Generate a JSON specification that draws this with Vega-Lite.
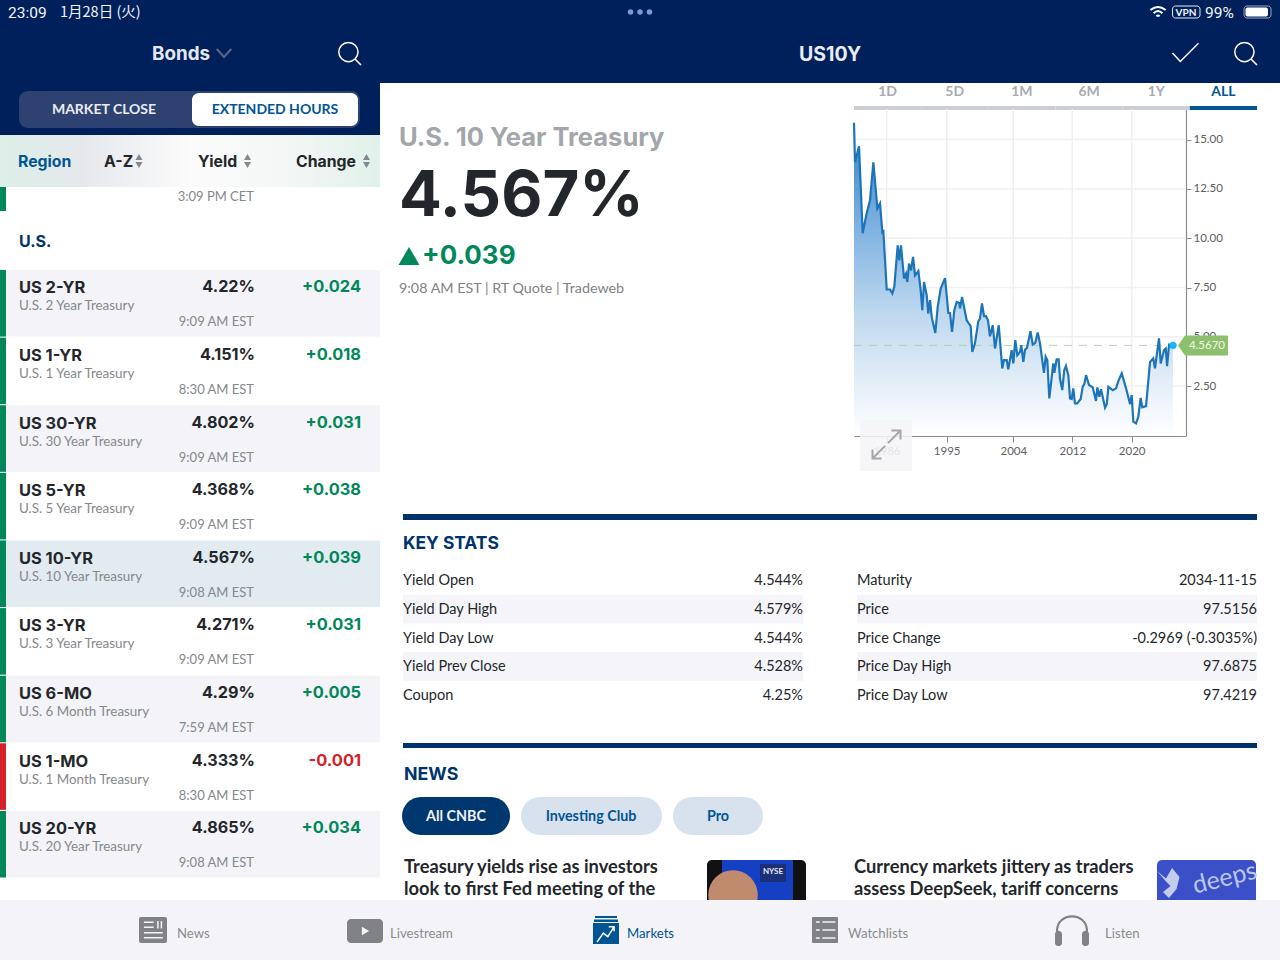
{"$schema":"https://vega.github.io/schema/vega-lite/v6.json","width":1280,"height":960,"autosize":"none","padding":0,"background":"#ffffff",
"config":{"view":{"stroke":null},"text":{"font":"Lato","baseline":"middle","align":"left"},"axis":{"labelFont":"Lato"}},
"data":{"values":[{"page":"US10Y"}]},
"resolve":{"scale":{"x":"independent","y":"independent"},"axis":{"x":"independent","y":"independent"}},
"layer":[
{"mark":{"type":"rect","x":0,"x2":1280,"y":0,"y2":83,"fill":"#00205b"}},
{"mark":{"type":"rect","x":0,"x2":380,"y":83,"y2":135,"fill":"#00205b"}},
{"mark":{"type":"rect","x":19,"x2":360,"y":91,"y2":128,"fill":"#2d4270","cornerRadius":9}},
{"mark":{"type":"rect","x":192,"x2":358,"y":93,"y2":126,"fill":"#ffffff","cornerRadius":7}},
{"mark":{"type":"rect","x":0,"x2":380,"y":135,"y2":187,"fill":{"gradient":"linear","x1":0,"y1":0,"x2":1,"y2":0,"stops":[{"offset":0,"color":"#dcefe8"},{"offset":0.22,"color":"#e6e8ec"},{"offset":0.5,"color":"#fbfbfb"},{"offset":0.75,"color":"#f4f7f6"},{"offset":1,"color":"#e0f1ea"}]}}},
{"mark":{"type":"rect","x":0,"x2":6,"y":187,"y2":211,"fill":"#00875a"}},
{"mark":{"type":"rule","x":380,"y":83,"y2":900,"stroke":"#e8e8ea","strokeWidth":1},"encoding":{}},
{"mark":{"type":"text","x":152,"y":53.5,"text":"Bonds","font":"Inter","fontSize":18.8,"fontWeight":"bold","color":"#e4e7ef"}},
{"mark":{"type":"point","x":224,"y":53,"size":256,"shape":"M-0.9,-0.5 L0,0.5 L0.9,-0.5","filled":false,"stroke":"#56688f","strokeWidth":2,"opacity":1}},
{"mark":{"type":"point","x":349,"y":53,"size":576,"shape":"M0.53,0.53 L1,1 M0.75,-0.08 A0.8,0.8 0 1 1 -0.85,-0.08 A0.8,0.8 0 1 1 0.75,-0.08","filled":false,"stroke":"#ffffff","strokeWidth":1.5,"opacity":1}},
{"mark":{"type":"point","x":1245,"y":53,"size":576,"shape":"M0.53,0.53 L1,1 M0.75,-0.08 A0.8,0.8 0 1 1 -0.85,-0.08 A0.8,0.8 0 1 1 0.75,-0.08","filled":false,"stroke":"#ffffff","strokeWidth":1.5,"opacity":1}},
{"mark":{"type":"point","x":1185.5,"y":53,"size":676,"shape":"M-1,0 L-0.4,0.65 L1,-0.75","filled":false,"stroke":"#ffffff","strokeWidth":1.5,"opacity":1}},
{"mark":{"type":"text","x":104,"y":110,"text":"MARKET CLOSE","align":"center","fontSize":14,"fontWeight":"bold","color":"#e8ebf2"}},
{"mark":{"type":"text","x":275,"y":110,"text":"EXTENDED HOURS","align":"center","fontSize":14,"fontWeight":"bold","color":"#005594"}},
{"mark":{"type":"text","x":18,"y":161.5,"text":"Region","font":"Inter","fontSize":15.8,"fontWeight":"bold","color":"#005594"}},
{"mark":{"type":"rule","x":86,"y":153,"y2":170,"stroke":"#d8dadd"},"encoding":{}},
{"mark":{"type":"text","x":104,"y":161.5,"text":"A-Z","font":"Inter","fontSize":15.8,"fontWeight":"bold","color":"#23272b"}},
{"mark":{"type":"text","x":198,"y":161.5,"text":"Yield","font":"Inter","fontSize":15.8,"fontWeight":"bold","color":"#23272b"}},
{"mark":{"type":"text","x":296,"y":161.5,"text":"Change","font":"Inter","fontSize":15.8,"fontWeight":"bold","color":"#23272b"}},
{"mark":{"type":"point","x":139,"y":157,"shape":"triangle-up","size":50,"filled":true,"fill":"#85888c","opacity":1}},
{"mark":{"type":"point","x":139,"y":165,"shape":"triangle-down","size":50,"filled":true,"fill":"#85888c","opacity":1}},
{"mark":{"type":"point","x":247.5,"y":157,"shape":"triangle-up","size":50,"filled":true,"fill":"#85888c","opacity":1}},
{"mark":{"type":"point","x":247.5,"y":165,"shape":"triangle-down","size":50,"filled":true,"fill":"#85888c","opacity":1}},
{"mark":{"type":"point","x":366.5,"y":157,"shape":"triangle-up","size":50,"filled":true,"fill":"#85888c","opacity":1}},
{"mark":{"type":"point","x":366.5,"y":165,"shape":"triangle-down","size":50,"filled":true,"fill":"#85888c","opacity":1}},
{"mark":{"type":"text","x":254,"y":197,"text":"3:09 PM CET","align":"right","fontSize":13,"color":"#85888c"}},
{"mark":{"type":"text","x":19,"y":241.5,"text":"U.S.","font":"Inter","fontSize":16,"fontWeight":"bold","color":"#00336b"}},
{"data":{"values":[
{"symbol":"US 2-YR","name":"U.S. 2 Year Treasury","yield":"4.22%","change":"+0.024","time":"9:09 AM EST","direction":"up"},
{"symbol":"US 1-YR","name":"U.S. 1 Year Treasury","yield":"4.151%","change":"+0.018","time":"8:30 AM EST","direction":"up"},
{"symbol":"US 30-YR","name":"U.S. 30 Year Treasury","yield":"4.802%","change":"+0.031","time":"9:09 AM EST","direction":"up"},
{"symbol":"US 5-YR","name":"U.S. 5 Year Treasury","yield":"4.368%","change":"+0.038","time":"9:09 AM EST","direction":"up"},
{"symbol":"US 10-YR","name":"U.S. 10 Year Treasury","yield":"4.567%","change":"+0.039","time":"9:08 AM EST","direction":"up"},
{"symbol":"US 3-YR","name":"U.S. 3 Year Treasury","yield":"4.271%","change":"+0.031","time":"9:09 AM EST","direction":"up"},
{"symbol":"US 6-MO","name":"U.S. 6 Month Treasury","yield":"4.29%","change":"+0.005","time":"7:59 AM EST","direction":"up"},
{"symbol":"US 1-MO","name":"U.S. 1 Month Treasury","yield":"4.333%","change":"-0.001","time":"8:30 AM EST","direction":"down"},
{"symbol":"US 20-YR","name":"U.S. 20 Year Treasury","yield":"4.865%","change":"+0.034","time":"9:08 AM EST","direction":"up"}]},
"encoding":{"y":{"field":"symbol","type":"nominal","axis":null,"sort":null,"scale":{"type":"band","domain":["US 2-YR","US 1-YR","US 30-YR","US 5-YR","US 10-YR","US 3-YR","US 6-MO","US 1-MO","US 20-YR"],"range":[270,877.5],"paddingInner":0.015,"paddingOuter":0}}},
"layer":[
{"mark":{"type":"rect","x":0,"x2":380},"encoding":{"fill":{"value":"#ffffff","condition":[{"test":"datum.symbol==='US 10-YR'","value":"#e1ebf0"},{"test":"datum.symbol==='US 2-YR'||datum.symbol==='US 30-YR'||datum.symbol==='US 6-MO'||datum.symbol==='US 20-YR'","value":"#f3f3f8"}]}}},
{"mark":{"type":"rect","x":0,"x2":6},"encoding":{"fill":{"value":"#00875a","condition":{"test":"datum.direction==='down'","value":"#d3222a"}}}},
{"mark":{"type":"text","x":19,"dy":-15,"font":"Inter","fontSize":16.4,"fontWeight":"bold","color":"#23272b"},"encoding":{"text":{"field":"symbol"}}},
{"mark":{"type":"text","x":19,"dy":3,"fontSize":13.4,"color":"#85888c"},"encoding":{"text":{"field":"name"}}},
{"mark":{"type":"text","x":255,"dy":-16,"align":"right","font":"Inter","fontSize":16.2,"fontWeight":"bold","color":"#23272b"},"encoding":{"text":{"field":"yield"}}},
{"mark":{"type":"text","x":361,"dy":-16,"align":"right","font":"Inter","fontSize":16.4,"fontWeight":"bold"},"encoding":{"text":{"field":"change"},"color":{"value":"#00875a","condition":{"test":"datum.direction==='down'","value":"#d3222a"}}}},
{"mark":{"type":"text","x":254,"dy":19,"align":"right","fontSize":13,"color":"#85888c"},"encoding":{"text":{"field":"time"}}}
]},
{"mark":{"type":"text","x":799,"y":54.5,"text":"US10Y","font":"Inter","fontSize":19.5,"fontWeight":"bold","color":"#e9ecf3"}},
{"mark":{"type":"text","x":399,"y":138,"text":"U.S. 10 Year Treasury","font":"Inter","fontSize":25.5,"fontWeight":"bold","color":"#a3a6ab"}},
{"mark":{"type":"text","x":399,"y":197,"text":"4.567%","font":"Inter","fontSize":63.5,"fontWeight":"bold","color":"#23272b"}},
{"mark":{"type":"point","x":409,"y":256,"shape":"triangle-up","size":440,"filled":true,"fill":"#00875a","opacity":1}},
{"mark":{"type":"text","x":422,"y":256,"text":"+0.039","font":"Inter","fontSize":26,"fontWeight":"bold","color":"#00875a"}},
{"mark":{"type":"text","x":399,"y":288.5,"text":"9:08 AM EST | RT Quote | Tradeweb","fontSize":14.3,"color":"#7f8286"}},
{"data":{"values":[{"range":"1D"},{"range":"5D"},{"range":"1M"},{"range":"6M"},{"range":"1Y"},{"range":"ALL"}]},
"encoding":{"x":{"field":"range","type":"nominal","axis":null,"sort":null,"scale":{"type":"band","domain":["1D","5D","1M","6M","1Y","ALL"],"range":[854,1257],"paddingInner":0,"paddingOuter":0}}},
"layer":[
{"mark":{"type":"text","y":91.5,"align":"center","fontSize":14,"fontWeight":"bold"},"encoding":{"text":{"field":"range"},"color":{"value":"#a8abb0","condition":{"test":"datum.range==='ALL'","value":"#005594"}}}},
{"mark":{"type":"rect","y":106,"y2":110},"encoding":{"fill":{"value":"#cbced3","condition":{"test":"datum.range==='ALL'","value":"#005594"}}}}
]},
{"data":{"values":[
{"year":1981.1,"yield":15.85},{"year":1981.25,"yield":13.85},{"year":1981.85,"yield":14.66},{"year":1982.4,"yield":10.25},{"year":1983.0,"yield":11.26},{"year":1983.5,"yield":11.92},{"year":1984.0,"yield":13.85},{"year":1984.6,"yield":11.51},{"year":1985.0,"yield":11.76},{"year":1985.35,"yield":10.31},{"year":1985.5,"yield":10.35},{"year":1986.0,"yield":7.4},{"year":1986.5,"yield":7.4},{"year":1986.84,"yield":7.2},{"year":1987.14,"yield":7.53},{"year":1987.65,"yield":9.64},{"year":1987.89,"yield":8.88},{"year":1988.14,"yield":9.64},{"year":1988.6,"yield":7.96},{"year":1988.9,"yield":8.21},{"year":1989.09,"yield":7.78},{"year":1989.35,"yield":8.71},{"year":1989.65,"yield":8.37},{"year":1989.95,"yield":9.05},{"year":1990.25,"yield":8.12},{"year":1990.75,"yield":8.34},{"year":1991.1,"yield":7.36},{"year":1991.34,"yield":6.35},{"year":1991.6,"yield":7.78},{"year":1992.0,"yield":7.11},{"year":1992.24,"yield":6.18},{"year":1992.5,"yield":6.86},{"year":1992.75,"yield":6.01},{"year":1993.29,"yield":5.2},{"year":1993.65,"yield":6.52},{"year":1994.1,"yield":7.45},{"year":1994.75,"yield":7.98},{"year":1995.22,"yield":6.21},{"year":1995.45,"yield":6.21},{"year":1995.72,"yield":5.25},{"year":1996.03,"yield":6.35},{"year":1996.35,"yield":6.77},{"year":1996.7,"yield":6.72},{"year":1996.8,"yield":6.44},{"year":1997.07,"yield":7.02},{"year":1997.7,"yield":5.84},{"year":1998.24,"yield":5.54},{"year":1998.46,"yield":4.24},{"year":1998.82,"yield":4.67},{"year":1999.27,"yield":5.79},{"year":1999.5,"yield":5.93},{"year":1999.77,"yield":6.69},{"year":2000.04,"yield":6.05},{"year":2000.31,"yield":6.05},{"year":2000.58,"yield":5.84},{"year":2000.85,"yield":5.03},{"year":2001.22,"yield":5.59},{"year":2001.53,"yield":4.41},{"year":2002.03,"yield":5.59},{"year":2002.51,"yield":3.4},{"year":2002.74,"yield":3.82},{"year":2003.11,"yield":3.82},{"year":2003.32,"yield":3.35},{"year":2003.78,"yield":4.33},{"year":2004.0,"yield":3.65},{"year":2004.27,"yield":4.83},{"year":2004.54,"yield":4.07},{"year":2004.91,"yield":4.24},{"year":2005.08,"yield":4.58},{"year":2005.36,"yield":3.73},{"year":2005.58,"yield":4.33},{"year":2005.86,"yield":4.45},{"year":2006.33,"yield":5.29},{"year":2006.63,"yield":4.61},{"year":2006.98,"yield":4.7},{"year":2007.31,"yield":5.22},{"year":2007.62,"yield":4.67},{"year":2008.16,"yield":3.18},{"year":2008.39,"yield":3.99},{"year":2008.61,"yield":3.82},{"year":2008.88,"yield":1.88},{"year":2009.42,"yield":3.65},{"year":2009.56,"yield":3.18},{"year":2009.88,"yield":3.86},{"year":2010.15,"yield":3.86},{"year":2010.33,"yield":2.89},{"year":2010.64,"yield":2.3},{"year":2010.91,"yield":3.31},{"year":2011.14,"yield":3.52},{"year":2011.46,"yield":3.06},{"year":2011.69,"yield":1.88},{"year":2011.92,"yield":1.85},{"year":2012.13,"yield":2.39},{"year":2012.36,"yield":1.63},{"year":2012.67,"yield":1.63},{"year":2013.13,"yield":1.85},{"year":2013.4,"yield":2.47},{"year":2013.62,"yield":2.61},{"year":2013.85,"yield":3.06},{"year":2014.25,"yield":2.56},{"year":2014.75,"yield":2.44},{"year":2015.19,"yield":1.75},{"year":2015.37,"yield":2.44},{"year":2015.64,"yield":1.96},{"year":2015.87,"yield":2.34},{"year":2016.41,"yield":1.41},{"year":2016.64,"yield":1.59},{"year":2016.86,"yield":2.47},{"year":2017.45,"yield":2.3},{"year":2017.9,"yield":2.39},{"year":2018.2,"yield":2.76},{"year":2018.66,"yield":3.15},{"year":2019.24,"yield":2.39},{"year":2019.78,"yield":1.59},{"year":2020.0,"yield":2.05},{"year":2020.2,"yield":0.7},{"year":2020.53,"yield":0.62},{"year":2020.81,"yield":0.95},{"year":2021.1,"yield":1.91},{"year":2021.3,"yield":1.43},{"year":2021.76,"yield":1.49},{"year":2022.25,"yield":3.73},{"year":2022.65,"yield":3.91},{"year":2022.86,"yield":3.4},{"year":2023.35,"yield":4.92},{"year":2023.56,"yield":3.65},{"year":2023.97,"yield":4.33},{"year":2024.18,"yield":4.41},{"year":2024.34,"yield":3.52},{"year":2024.59,"yield":4.61},{"year":2025.07,"yield":4.567}]},
"layer":[
{"data":{"values":[{"tick":2.5},{"tick":5},{"tick":7.5},{"tick":10},{"tick":12.5},{"tick":15}]},"mark":{"type":"rule","stroke":"#f0f0f2","strokeWidth":1.5},"encoding":{"y":{"field":"tick","type":"quantitative"},"x":{"datum":1981.1},"x2":{"datum":2026.7}}},
{"data":{"values":[{"tick":1986},{"tick":1995},{"tick":2004},{"tick":2012},{"tick":2020}]},"mark":{"type":"rule","stroke":"#f0f0f2","strokeWidth":1.5},"encoding":{"x":{"field":"tick","type":"quantitative"},"y":{"datum":0},"y2":{"datum":16.55}}},
{"mark":{"type":"area","interpolate":"linear","fill":{"gradient":"linear","x1":0,"y1":0,"x2":0,"y2":1,"stops":[{"offset":0,"color":"#2f7fc6"},{"offset":0.25,"color":"#6ba6dc"},{"offset":0.6,"color":"#bcd7ef"},{"offset":1,"color":"#ffffff"}]}},"encoding":{"x":{"field":"year","type":"quantitative","title":null,"axis":{"values":[1986,1995,2004,2012,2020],"format":"d","offset":-524,"orient":"bottom","grid":false,"domainColor":"#8c8c8c","tickColor":"#8c8c8c","tickSize":6,"labelFontSize":11.5,"labelColor":"#5e6064","labelPadding":3,"domainWidth":1.2},"scale":{"type":"linear","domain":[1981.1,1986,1995,2004,2012,2020,2025.07,2026.7],"range":[854,886.7,946.7,1013.3,1072.3,1131.7,1173,1186],"nice":false,"zero":false}},"y":{"field":"yield","type":"quantitative","title":null,"stack":null,"axis":{"values":[2.5,5,7.5,10,12.5,15],"format":".2f","orient":"right","offset":-94,"grid":false,"domainColor":"#8c8c8c","tickColor":"#8c8c8c","tickSize":5,"labelFontSize":11.5,"labelColor":"#5e6064","labelPadding":2,"domainWidth":1.2},"scale":{"type":"linear","domain":[0,16.55],"range":[435.5,109],"nice":false,"zero":false}}}},
{"data":{"values":[{"last":4.567}]},"mark":{"type":"rule","stroke":"#a9c9a0","strokeWidth":1,"strokeDash":[8,7],"opacity":0.8},"encoding":{"y":{"field":"last","type":"quantitative"},"x":{"datum":1981.1},"x2":{"datum":2026.7}}},
{"mark":{"type":"line","interpolate":"linear","stroke":"#1d75b9","strokeWidth":2.2},"encoding":{"x":{"field":"year","type":"quantitative"},"y":{"field":"yield","type":"quantitative"}}},
{"data":{"values":[{"year":2025.07,"yield":4.567}]},"mark":{"type":"point","filled":true,"fill":"#19b5fe","size":50,"opacity":1},"encoding":{"x":{"field":"year","type":"quantitative"},"y":{"field":"yield","type":"quantitative"}}},
{"data":{"values":[{"yield":4.567}]},"mark":{"type":"point","x":1203,"filled":true,"fill":"#8cc06c","size":2500,"shape":"M-1,0 L-0.72,-0.4 L0.97,-0.4 L1,-0.37 L1,0.37 L0.97,0.4 L-0.72,0.4 Z","opacity":1},"encoding":{"y":{"field":"yield","type":"quantitative"}}},
{"data":{"values":[{"yield":4.567,"label":"4.5670"}]},"mark":{"type":"text","x":1207,"dy":1,"align":"center","fontSize":11.5,"color":"#f2f7ee"},"encoding":{"y":{"field":"yield","type":"quantitative"},"text":{"field":"label"}}}
]},
{"mark":{"type":"rect","x":860,"x2":912,"y":420,"y2":471,"fill":"#f5f5f7","opacity":0.88}},
{"mark":{"type":"point","x":886.5,"y":444.5,"size":784,"shape":"M0.1,-0.1 L1,-1 M0.35,-1 L1,-1 L1,-0.35 M-0.1,0.1 L-1,1 M-0.35,1 L-1,1 L-1,0.35","filled":false,"stroke":"#a6a6a8","strokeWidth":2,"opacity":1}},
{"mark":{"type":"rect","x":403,"x2":1257,"y":514,"y2":520,"fill":"#00336b"}},
{"mark":{"type":"text","x":403,"y":543.5,"text":"KEY STATS","font":"Inter","fontSize":17.4,"fontWeight":"bold","color":"#00336b"}},
{"data":{"values":[
{"panel":"left","row":"1","stat":"Yield Open","value":"4.544%"},{"panel":"left","row":"2","stat":"Yield Day High","value":"4.579%"},{"panel":"left","row":"3","stat":"Yield Day Low","value":"4.544%"},{"panel":"left","row":"4","stat":"Yield Prev Close","value":"4.528%"},{"panel":"left","row":"5","stat":"Coupon","value":"4.25%"},
{"panel":"right","row":"1","stat":"Maturity","value":"2034-11-15"},{"panel":"right","row":"2","stat":"Price","value":"97.5156"},{"panel":"right","row":"3","stat":"Price Change","value":"-0.2969 (-0.3035%)"},{"panel":"right","row":"4","stat":"Price Day High","value":"97.6875"},{"panel":"right","row":"5","stat":"Price Day Low","value":"97.4219"}]},
"encoding":{"y":{"field":"row","type":"nominal","axis":null,"scale":{"type":"band","domain":["1","2","3","4","5"],"range":[566,709.5],"paddingInner":0,"paddingOuter":0}},"x":{"field":"panel","type":"nominal","axis":null,"scale":{"type":"band","domain":["left","right"],"range":[403,1257],"paddingInner":0.119,"paddingOuter":0}}},
"layer":[
{"transform":[{"filter":"datum.row==='2'||datum.row==='4'"}],"mark":{"type":"rect","fill":"#f5f5f9"}},
{"mark":{"type":"text","dy":1,"fontSize":14.5,"color":"#23272b"},"encoding":{"text":{"field":"stat"},"x":{"field":"panel","type":"nominal","bandPosition":0}}},
{"mark":{"type":"text","dy":1,"align":"right","fontSize":14.5,"color":"#23272b"},"encoding":{"text":{"field":"value"},"x":{"field":"panel","type":"nominal","bandPosition":1}}}
]},
{"mark":{"type":"rect","x":403,"x2":1257,"y":743,"y2":748,"fill":"#00336b"}},
{"mark":{"type":"text","x":404,"y":774.5,"text":"NEWS","font":"Inter","fontSize":17.8,"fontWeight":"bold","color":"#00336b"}},
{"mark":{"type":"rect","x":402,"x2":510,"y":797,"y2":835,"fill":"#00376f","cornerRadius":19}},
{"mark":{"type":"text","x":456,"y":817,"text":"All CNBC","align":"center","fontSize":14.3,"fontWeight":"bold","color":"#eef1f6"}},
{"mark":{"type":"rect","x":521,"x2":662,"y":797,"y2":835,"fill":"#d8e2ef","cornerRadius":19}},
{"mark":{"type":"text","x":591,"y":817,"text":"Investing Club","align":"center","fontSize":14.3,"fontWeight":"bold","color":"#005594"}},
{"mark":{"type":"rect","x":673,"x2":763,"y":797,"y2":835,"fill":"#d8e2ef","cornerRadius":19}},
{"mark":{"type":"text","x":718,"y":817,"text":"Pro","align":"center","fontSize":14.3,"fontWeight":"bold","color":"#005594"}},
{"mark":{"type":"text","x":404,"y":867.5,"text":"Treasury yields rise as investors","fontSize":18.3,"fontWeight":"bold","color":"#23272b"}},
{"mark":{"type":"text","x":404,"y":889.5,"text":"look to first Fed meeting of the","fontSize":18.3,"fontWeight":"bold","color":"#23272b"}},
{"mark":{"type":"text","x":854,"y":867.5,"text":"Currency markets jittery as traders","fontSize":18.3,"fontWeight":"bold","color":"#23272b"}},
{"mark":{"type":"text","x":854,"y":889.5,"text":"assess DeepSeek, tariff concerns","fontSize":18.3,"fontWeight":"bold","color":"#23272b"}},
{"mark":{"type":"rect","x":707,"x2":806,"y":860,"y2":905,"fill":"#111114","cornerRadius":5}},
{"mark":{"type":"rect","x":722,"x2":793,"y":860,"y2":905,"fill":"#1540c4"}},
{"mark":{"type":"rect","x":760,"x2":786,"y":864,"y2":882,"fill":"#1c3078"}},
{"mark":{"type":"text","x":773,"y":872,"text":"NYSE","align":"center","fontSize":8,"fontWeight":"bold","color":"#e6e9f2"}},
{"mark":{"type":"point","x":733,"y":895,"size":2460,"filled":true,"fill":"#c08a6e","opacity":1}},
{"mark":{"type":"rect","x":1157,"x2":1256,"y":860,"y2":905,"fill":"#3a4fc8","cornerRadius":5}},
{"mark":{"type":"point","x":1172,"y":883,"size":900,"filled":true,"fill":"#c3cbef","shape":"M-1,-0.8 L-0.4,-0.3 L0,-1 L0.5,-0.4 L0.3,0.4 L-0.2,1 L-0.6,0.6 L-0.1,0.2 L-0.4,-0.1 Z","opacity":1}},
{"mark":{"type":"text","x":1193,"y":886,"text":"deeps","angle":-14,"fontSize":25,"color":"#bcc6ee"}},
{"mark":{"type":"rect","x":0,"x2":1280,"y":900,"y2":960,"fill":"#f4f4f8"}},
{"mark":{"type":"rule","x":0,"x2":1280,"y":900.5,"stroke":"#c9c9cc","strokeWidth":1.2},"encoding":{}},
{"mark":{"type":"rect","x":139,"x2":167,"y":917,"y2":943,"fill":"#808285","cornerRadius":2}},
{"mark":{"type":"point","x":153,"y":930,"size":784,"shape":"M-0.65,-0.55 L0.05,-0.55 M-0.65,-0.2 L0.05,-0.2 M-0.65,0.2 L0.7,0.2 M-0.65,0.55 L0.7,0.55 M0.35,-0.65 L0.35,-0.1 M0.6,-0.65 L0.6,-0.1","filled":false,"stroke":"#f4f4f8","strokeWidth":1.5,"opacity":1}},
{"mark":{"type":"rule","x":169,"y":925,"y2":941,"stroke":"#808285","strokeWidth":1},"encoding":{}},
{"mark":{"type":"text","x":177,"y":933.5,"text":"News","fontSize":13.2,"color":"#8a8c90"}},
{"mark":{"type":"rect","x":347,"x2":383,"y":919,"y2":943,"fill":"#808285","cornerRadius":4}},
{"mark":{"type":"point","x":365.5,"y":931,"shape":"triangle-right","size":70,"filled":true,"fill":"#f4f4f8","opacity":1}},
{"mark":{"type":"text","x":390,"y":933.5,"text":"Livestream","fontSize":13.2,"color":"#8a8c90"}},
{"mark":{"type":"rect","x":595,"x2":617,"y":916,"y2":918,"fill":"#005594"}},
{"mark":{"type":"rect","x":594,"x2":618,"y":919.5,"y2":922,"fill":"#005594"}},
{"mark":{"type":"rect","x":593,"x2":619,"y":923,"y2":944,"fill":"#005594"}},
{"mark":{"type":"point","x":606,"y":934,"size":324,"shape":"M-1,0.9 L-0.3,-0.1 L0.2,0.3 L0.9,-0.8 M0.3,-0.8 L0.9,-0.8 L0.9,-0.3","filled":false,"stroke":"#ffffff","strokeWidth":1.5,"opacity":1}},
{"mark":{"type":"text","x":627,"y":933.5,"text":"Markets","fontSize":13.2,"color":"#005594"}},
{"mark":{"type":"rect","x":812,"x2":838,"y":917,"y2":943,"fill":"#808285","cornerRadius":1}},
{"mark":{"type":"point","x":825,"y":930,"size":676,"shape":"M-0.2,-0.62 L0.8,-0.62 M-0.2,0 L0.8,0 M-0.2,0.62 L0.8,0.62 M-0.7,-0.62 L-0.4,-0.62 M-0.7,0 L-0.4,0 M-0.7,0.62 L-0.4,0.62","filled":false,"stroke":"#f4f4f8","strokeWidth":1.6,"opacity":1}},
{"mark":{"type":"text","x":848,"y":933.5,"text":"Watchlists","fontSize":13.2,"color":"#8a8c90"}},
{"mark":{"type":"point","x":1072,"y":931,"size":1156,"shape":"M-0.88,0.3 L-0.88,0 C-0.88,-1.15 0.88,-1.15 0.88,0 L0.88,0.3","filled":false,"stroke":"#808285","strokeWidth":2.2,"opacity":1}},
{"mark":{"type":"rect","x":1055,"x2":1062,"y":931,"y2":946,"fill":"#808285","cornerRadius":3}},
{"mark":{"type":"rect","x":1082,"x2":1089,"y":931,"y2":946,"fill":"#808285","cornerRadius":3}},
{"mark":{"type":"text","x":1105,"y":933.5,"text":"Listen","fontSize":13.2,"color":"#8a8c90"}},
{"mark":{"type":"text","x":8,"y":12.5,"text":"23:09","fontSize":15.5,"color":"#f2f4f8","font":"Roboto"}},
{"mark":{"type":"text","x":60,"y":12.5,"text":"1月28日 (火)","fontSize":14.5,"color":"#f2f4f8","font":"Noto Sans CJK JP"}},
{"mark":{"type":"point","x":630.5,"y":12,"size":30,"filled":true,"fill":"#7f98d8","opacity":1}},
{"mark":{"type":"point","x":640,"y":12,"size":30,"filled":true,"fill":"#7f98d8","opacity":1}},
{"mark":{"type":"point","x":649.5,"y":12,"size":30,"filled":true,"fill":"#7f98d8","opacity":1}},
{"mark":{"type":"point","x":1158,"y":12,"size":256,"shape":"M-0.95,-0.25 Q0,-1 0.95,-0.25 M-0.55,0.15 Q0,-0.4 0.55,0.15 M-0.2,0.55 Q0,0.35 0.2,0.55","filled":false,"stroke":"#ffffff","strokeWidth":2,"opacity":1}},
{"mark":{"type":"rect","x":1172.5,"x2":1200,"y":6,"y2":18,"fill":"#00205b","stroke":"#e8ebf2","strokeWidth":1,"cornerRadius":3}},
{"mark":{"type":"text","x":1186,"y":12.5,"text":"VPN","align":"center","fontSize":10,"fontWeight":"bold","color":"#f2f4f8"}},
{"mark":{"type":"text","x":1205,"y":12.5,"text":"99%","fontSize":15.5,"color":"#f2f4f8","font":"Roboto"}},
{"mark":{"type":"rect","x":1244,"x2":1271,"y":6,"y2":18,"fill":"#00205b","stroke":"#9aa6c0","strokeWidth":1,"cornerRadius":3}},
{"mark":{"type":"rect","x":1245.5,"x2":1268,"y":7.5,"y2":16.5,"fill":"#ffffff","cornerRadius":2}}
]}
